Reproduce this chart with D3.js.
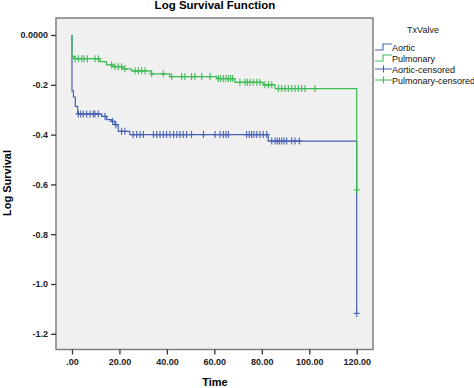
<!DOCTYPE html>
<html>
<head>
<meta charset="utf-8">
<script src="https://cdn.jsdelivr.net/npm/d3@7"></script>
<style>
  body { margin: 0; background: #fff; }
  svg { display: block; font-family: "Liberation Sans", Arial, sans-serif; }
</style>
</head>
<body>
<script>
// step points (time, log survival)
const aorticTime = [0, 0, 0.6, 1.4, 2.4, 12.5, 14.6, 16.7, 18.0, 19.5, 24.4, 82.7, 120];
const aorticLogS = [0, -0.224, -0.249, -0.287, -0.317, -0.327, -0.340, -0.347, -0.360, -0.387, -0.400, -0.426, -1.118];
const aorticCensored = [2.7, 3.7, 4.8, 6.2, 7.6, 9, 9.7, 11.1, 13.9, 17.1, 18.5, 20.9, 22.3,
  25.8, 27.3, 28.7, 30.1, 34.3, 35.7, 37.1, 38.5, 39.9, 41.3, 42.8, 44.2, 45.5, 46.9, 48.3, 50.4,
  55.4, 60.3, 62.4, 63.8, 64.9, 65.9, 73.6, 74.7, 75.7, 76.7, 77.9, 79.2, 80.6, 82.1,
  84.2, 85.6, 86.5, 87.4, 88.4, 89.4, 90.5, 92.6, 94, 95.8, 120];

const pulmTime = [0, 0, 1.0, 11.8, 14.5, 17.3, 21.5, 25.0, 33.4, 41.2, 61.0, 68.7, 80.6, 85.6, 120];
const pulmLogS = [0, -0.087, -0.095, -0.107, -0.120, -0.127, -0.136, -0.144, -0.156, -0.167, -0.175, -0.190, -0.200, -0.215, -0.622];
const pulmCensored = [1.3, 2.7, 4.1, 5.1, 6.5, 9.7, 11.1, 16.7, 18.1, 19.5, 20.9, 22.3, 26.6, 28,
  29.4, 30.8, 33.6, 38.5, 42, 46.2, 47.6, 50.4, 51.8, 54.7, 58.2, 61.7, 62.7, 63.8, 64.9, 65.9,
  66.9, 67.7, 70.8, 72.9, 73.9, 75, 76.4, 77.9, 79.2, 81.3, 82.8, 84.2, 87, 88.4, 89.8, 91.2,
  92.6, 94, 95.4, 96.8, 98.2, 102.4, 120];

const xTicks = [0, 20, 40, 60, 80, 100, 120];
const xTickLabels = [".00", "20.00", "40.00", "60.00", "80.00", "100.00", "120.00"];
const yTicks = [0, -0.2, -0.4, -0.6, -0.8, -1.0, -1.2];
const yTickLabels = ["0.0000", "-0.2", "-0.4", "-0.6", "-0.8", "-1.0", "-1.2"];

const legendNames = ["Aortic", "Pulmonary", "Aortic-censored", "Pulmonary-censored"];
const blue = "#4661b4", green = "#3dbb55";

const width = 474, height = 388;
const plotLeft = 56, plotRight = 373, plotTop = 18, plotBottom = 349.5;

const x = d3.scaleLinear().domain([-6.74, 126.87]).range([plotLeft, plotRight]);
const y = d3.scaleLinear().domain([0.0683, -1.263]).range([plotTop, plotBottom]);

const svg = d3.select('body').append('svg')
    .attr('width', width)
    .attr('height', height);

// plot area
svg.append('rect')
    .attr('x', plotLeft).attr('y', plotTop)
    .attr('width', plotRight - plotLeft).attr('height', plotBottom - plotTop)
    .attr('fill', '#f0f0f0')
    .attr('stroke', '#808080')
    .attr('stroke-width', 1.5);

// axes
const xAxis = svg.append('g')
    .attr('transform', `translate(0, ${plotBottom})`)
    .call(d3.axisBottom(x).tickValues(xTicks).tickSize(5).tickPadding(4)
        .tickFormat((d, i) => xTickLabels[i]));
const yAxis = svg.append('g')
    .attr('transform', `translate(${plotLeft}, 0)`)
    .call(d3.axisLeft(y).tickValues(yTicks).tickSize(5).tickPadding(3)
        .tickFormat((d, i) => yTickLabels[i]));

[xAxis, yAxis].forEach(function (ax) {
    ax.select('.domain').remove();
    ax.selectAll('line').attr('stroke', '#333').attr('stroke-width', 1.3);
    ax.selectAll('text')
        .attr('fill', '#222')
        .style('font-size', '9px')
        .style('font-weight', 'bold')
        .style('font-family', '"Liberation Sans", Arial, sans-serif');
});

// step value at a given time
function stepValue(times, vals, t) {
    let v = vals[0];
    for (let i = 0; i < times.length; i++) {
        if (times[i] <= t) v = vals[i];
    }
    return v;
}

const line = d3.line()
    .x(d => x(d[0]))
    .y(d => y(d[1]))
    .curve(d3.curveStepAfter);

const series = [
    { times: aorticTime, vals: aorticLogS, cens: aorticCensored, color: blue },
    { times: pulmTime, vals: pulmLogS, cens: pulmCensored, color: green }
];

series.forEach(function (s) {
    svg.append('path')
        .datum(s.times.map((t, i) => [t, s.vals[i]]))
        .attr('d', line)
        .attr('fill', 'none')
        .attr('stroke', s.color)
        .attr('stroke-width', 1.2);

    const marks = svg.append('g').selectAll('g')
        .data(s.cens)
        .enter()
        .append('g')
        .attr('transform', t => `translate(${x(t)}, ${y(stepValue(s.times, s.vals, t))})`)
        .attr('stroke', s.color)
        .attr('stroke-width', 1.1);
    marks.append('line').attr('x1', -3).attr('x2', 3).attr('y1', 0).attr('y2', 0);
    marks.append('line').attr('x1', 0).attr('x2', 0).attr('y1', -3.5).attr('y2', 3.5);
});

// title and axis labels
svg.append('text')
    .attr('x', 215).attr('y', 9)
    .attr('text-anchor', 'middle')
    .style('font-size', '11.5px').style('font-weight', 'bold')
    .text('Log Survival Function');

svg.append('text')
    .attr('x', 215).attr('y', 386)
    .attr('text-anchor', 'middle')
    .style('font-size', '11px').style('font-weight', 'bold')
    .text('Time');

svg.append('text')
    .attr('transform', 'translate(11, 183) rotate(-90)')
    .attr('text-anchor', 'middle')
    .style('font-size', '11px').style('font-weight', 'bold')
    .text('Log Survival');

// legend
svg.append('text')
    .attr('x', 423).attr('y', 33)
    .attr('text-anchor', 'middle')
    .style('font-size', '9px')
    .attr('fill', '#222')
    .text('TxValve');

const legend = svg.append('g').selectAll('g')
    .data(legendNames)
    .enter()
    .append('g')
    .attr('transform', (d, i) => `translate(375, ${47 + i * 11})`);

legend.each(function (d, i) {
    const g = d3.select(this);
    const col = i % 2 === 0 ? blue : green;
    if (i < 2) {
        g.append('path')
            .attr('d', 'M0,3H8V-3H17')
            .attr('fill', 'none')
            .attr('stroke', col)
            .attr('stroke-width', 1.1);
    } else {
        g.append('path')
            .attr('d', 'M0,0H17M8.5,-3.5V3.5')
            .attr('fill', 'none')
            .attr('stroke', col)
            .attr('stroke-width', 1.1);
    }
    g.append('text')
        .attr('x', 17).attr('y', 3.5)
        .style('font-size', '9px')
        .attr('fill', '#111')
        .text(d);
});
</script>
</body>
</html>
